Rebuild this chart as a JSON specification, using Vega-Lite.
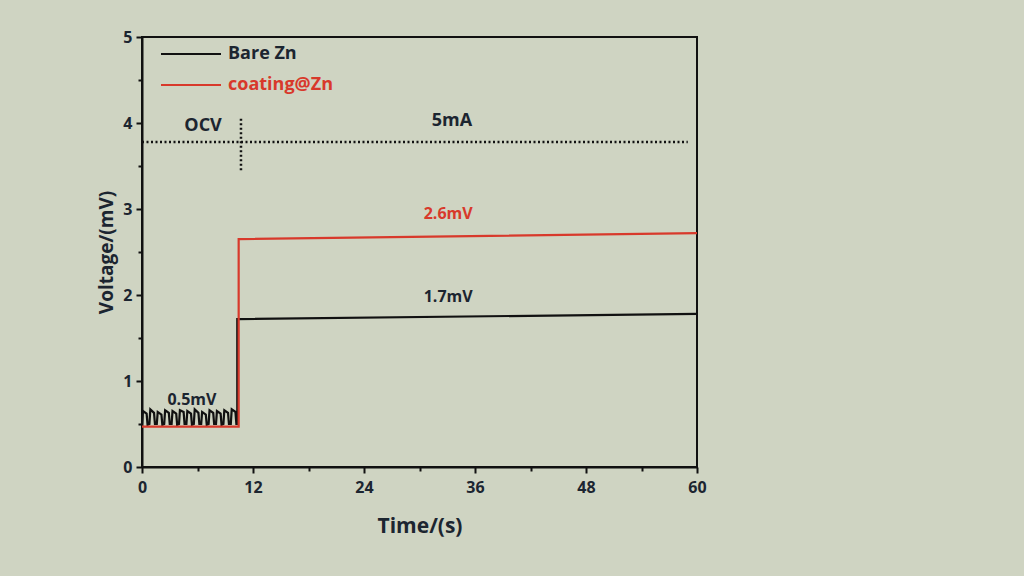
{
  "$schema": "https://vega.github.io/schema/vega-lite/v6.json",
  "autosize": {"type": "none"},
  "width": 555,
  "height": 430,
  "padding": {"left": 142, "top": 37, "right": 327, "bottom": 109},
  "background": "#cfd4c2",
  "config": {
    "font": "Open Sans",
    "view": {"stroke": "#111111", "strokeWidth": 2},
    "axis": {
      "grid": false,
      "domainColor": "#111111",
      "domainWidth": 2,
      "tickColor": "#111111",
      "tickWidth": 2,
      "tickSize": 6,
      "labelFlush": false,
      "labelFont": "Open Sans",
      "labelFontWeight": "bold",
      "labelFontSize": 16,
      "labelColor": "#1c2530",
      "titleFont": "Open Sans",
      "titleFontWeight": "bold",
      "titleColor": "#1c2530"
    }
  },
  "resolve": {"axis": {"x": "independent", "y": "independent"}},
  "datasets": {
    "curves": [
      {"series": "Bare Zn", "i": 0, "t": 0.0, "v": 0.5},
      {"series": "Bare Zn", "i": 1, "t": 0.1, "v": 0.65},
      {"series": "Bare Zn", "i": 2, "t": 0.5, "v": 0.62},
      {"series": "Bare Zn", "i": 3, "t": 0.6, "v": 0.49},
      {"series": "Bare Zn", "i": 4, "t": 0.8, "v": 0.5},
      {"series": "Bare Zn", "i": 5, "t": 0.9, "v": 0.67},
      {"series": "Bare Zn", "i": 6, "t": 1.3, "v": 0.63},
      {"series": "Bare Zn", "i": 7, "t": 1.4, "v": 0.5},
      {"series": "Bare Zn", "i": 8, "t": 1.6, "v": 0.5},
      {"series": "Bare Zn", "i": 9, "t": 1.7, "v": 0.64},
      {"series": "Bare Zn", "i": 10, "t": 2.1, "v": 0.61},
      {"series": "Bare Zn", "i": 11, "t": 2.2, "v": 0.49},
      {"series": "Bare Zn", "i": 12, "t": 2.4, "v": 0.5},
      {"series": "Bare Zn", "i": 13, "t": 2.5, "v": 0.66},
      {"series": "Bare Zn", "i": 14, "t": 2.9, "v": 0.63},
      {"series": "Bare Zn", "i": 15, "t": 3.0, "v": 0.5},
      {"series": "Bare Zn", "i": 16, "t": 3.2, "v": 0.5},
      {"series": "Bare Zn", "i": 17, "t": 3.3, "v": 0.65},
      {"series": "Bare Zn", "i": 18, "t": 3.7, "v": 0.62},
      {"series": "Bare Zn", "i": 19, "t": 3.8, "v": 0.49},
      {"series": "Bare Zn", "i": 20, "t": 4.0, "v": 0.5},
      {"series": "Bare Zn", "i": 21, "t": 4.1, "v": 0.66},
      {"series": "Bare Zn", "i": 22, "t": 4.5, "v": 0.64},
      {"series": "Bare Zn", "i": 23, "t": 4.6, "v": 0.5},
      {"series": "Bare Zn", "i": 24, "t": 4.8, "v": 0.5},
      {"series": "Bare Zn", "i": 25, "t": 4.9, "v": 0.65},
      {"series": "Bare Zn", "i": 26, "t": 5.3, "v": 0.62},
      {"series": "Bare Zn", "i": 27, "t": 5.4, "v": 0.49},
      {"series": "Bare Zn", "i": 28, "t": 5.6, "v": 0.5},
      {"series": "Bare Zn", "i": 29, "t": 5.7, "v": 0.67},
      {"series": "Bare Zn", "i": 30, "t": 6.1, "v": 0.63},
      {"series": "Bare Zn", "i": 31, "t": 6.2, "v": 0.5},
      {"series": "Bare Zn", "i": 32, "t": 6.4, "v": 0.5},
      {"series": "Bare Zn", "i": 33, "t": 6.5, "v": 0.64},
      {"series": "Bare Zn", "i": 34, "t": 6.9, "v": 0.61},
      {"series": "Bare Zn", "i": 35, "t": 7.0, "v": 0.49},
      {"series": "Bare Zn", "i": 36, "t": 7.2, "v": 0.5},
      {"series": "Bare Zn", "i": 37, "t": 7.3, "v": 0.66},
      {"series": "Bare Zn", "i": 38, "t": 7.7, "v": 0.63},
      {"series": "Bare Zn", "i": 39, "t": 7.8, "v": 0.5},
      {"series": "Bare Zn", "i": 40, "t": 8.0, "v": 0.5},
      {"series": "Bare Zn", "i": 41, "t": 8.1, "v": 0.65},
      {"series": "Bare Zn", "i": 42, "t": 8.5, "v": 0.62},
      {"series": "Bare Zn", "i": 43, "t": 8.6, "v": 0.49},
      {"series": "Bare Zn", "i": 44, "t": 8.8, "v": 0.5},
      {"series": "Bare Zn", "i": 45, "t": 8.9, "v": 0.66},
      {"series": "Bare Zn", "i": 46, "t": 9.3, "v": 0.63},
      {"series": "Bare Zn", "i": 47, "t": 9.4, "v": 0.5},
      {"series": "Bare Zn", "i": 48, "t": 9.6, "v": 0.5},
      {"series": "Bare Zn", "i": 49, "t": 9.7, "v": 0.67},
      {"series": "Bare Zn", "i": 50, "t": 10.1, "v": 0.64},
      {"series": "Bare Zn", "i": 51, "t": 10.2, "v": 0.5},
      {"series": "Bare Zn", "i": 52, "t": 10.3, "v": 0.5},
      {"series": "Bare Zn", "i": 53, "t": 10.3, "v": 1.72},
      {"series": "Bare Zn", "i": 54, "t": 60, "v": 1.78},
      {"series": "coating@Zn", "i": 0, "t": 0, "v": 0.47},
      {"series": "coating@Zn", "i": 1, "t": 10.45, "v": 0.47},
      {"series": "coating@Zn", "i": 2, "t": 10.45, "v": 2.65},
      {"series": "coating@Zn", "i": 3, "t": 60, "v": 2.72}
    ],
    "ocv": [
      {"g": "h", "t": 0, "v": 3.78},
      {"g": "h", "t": 59, "v": 3.78},
      {"g": "v", "t": 10.7, "v": 4.05},
      {"g": "v", "t": 10.7, "v": 3.45}
    ],
    "big": [
      {"label": "OCV", "t": 6.6, "v": 3.96},
      {"label": "5mA", "t": 33.5, "v": 4.02}
    ],
    "small": [
      {"label": "2.6mV", "t": 33.1, "v": 2.94},
      {"label": "1.7mV", "t": 33.1, "v": 1.98},
      {"label": "0.5mV", "t": 5.4, "v": 0.78}
    ]
  },
  "layer": [
    {
      "data": {"name": "ocv"},
      "mark": {"type": "line", "color": "#111111", "strokeWidth": 2.5, "strokeDash": [2, 2.5]},
      "encoding": {
        "x": {"field": "t", "type": "quantitative", "scale": {"domain": [0, 60], "nice": false}, "axis": null},
        "y": {"field": "v", "type": "quantitative", "scale": {"domain": [0, 5], "nice": false}, "axis": null},
        "detail": {"field": "g"}
      }
    },
    {
      "data": {"name": "curves"},
      "mark": {"type": "line", "strokeWidth": 2.2},
      "encoding": {
        "x": {
          "field": "t", "type": "quantitative",
          "scale": {"domain": [0, 60], "nice": false},
          "axis": {"values": [0, 12, 24, 36, 48, 60], "orient": "bottom", "title": "Time/(s)", "titleFontSize": 21, "titlePadding": 20, "labelPadding": 6}
        },
        "y": {
          "field": "v", "type": "quantitative",
          "scale": {"domain": [0, 5], "nice": false},
          "axis": {"values": [0, 1, 2, 3, 4, 5], "format": "d", "orient": "left", "title": "Voltage/(mV)", "titleFontSize": 19, "titlePadding": 6, "labelPadding": 4}
        },
        "order": {"field": "i", "type": "quantitative"},
        "color": {
          "field": "series", "type": "nominal",
          "scale": {"domain": ["Bare Zn", "coating@Zn"], "range": ["#111111", "#d8392b"]},
          "legend": {
            "title": null,
            "orient": "none",
            "legendX": 58,
            "legendY": 6,
            "padding": 0,
            "symbolType": "M-5,0H1",
            "symbolSize": 400,
            "symbolStrokeWidth": 2,
            "symbolFillColor": "transparent",
            "labelOffset": 6,
            "rowPadding": 11,
            "labelFont": "Open Sans",
            "labelFontWeight": "bold",
            "labelFontSize": 18,
            "encode": {
              "labels": {"update": {"fill": {"signal": "datum.value === 'coating@Zn' ? '#d8392b' : '#1c2530'"}}}
            }
          }
        }
      }
    },
    {
      "data": {"name": "big"},
      "mark": {"type": "text", "font": "Open Sans", "fontWeight": "bold", "fontSize": 18, "color": "#1c2530"},
      "encoding": {
        "x": {"field": "t", "type": "quantitative", "axis": null},
        "y": {"field": "v", "type": "quantitative", "axis": null},
        "text": {"field": "label"}
      }
    },
    {
      "data": {"name": "small"},
      "mark": {"type": "text", "font": "Open Sans", "fontWeight": "bold", "fontSize": 16},
      "encoding": {
        "x": {"field": "t", "type": "quantitative", "axis": {"values": [6, 18, 30, 42, 54], "orient": "bottom", "labels": false, "domain": false, "tickSize": 4, "title": null}},
        "y": {"field": "v", "type": "quantitative", "axis": {"values": [0.5, 1.5, 2.5, 3.5, 4.5], "orient": "left", "labels": false, "domain": false, "tickSize": 4, "title": null}},
        "text": {"field": "label"},
        "color": {"condition": {"test": "datum.label === '2.6mV'", "value": "#d8392b"}, "value": "#1c2530"}
      }
    }
  ]
}
